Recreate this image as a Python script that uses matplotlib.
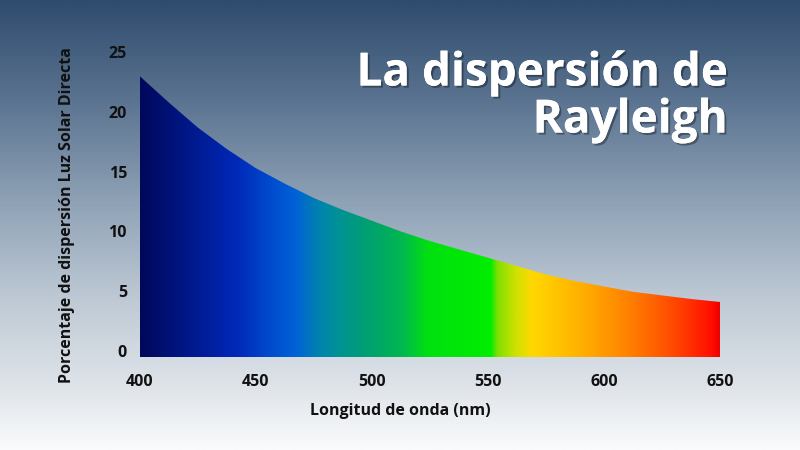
import matplotlib
matplotlib.use('Agg')
import matplotlib.pyplot as plt
import matplotlib.patheffects as pe
from matplotlib.colors import LinearSegmentedColormap
from matplotlib.path import Path
from matplotlib.patches import PathPatch
import numpy as np

# values
wavelength = [400, 412.5, 425, 437.5, 450, 462.5, 475, 487.5, 500, 512.5, 525,
              537.5, 550, 562.5, 575, 587.5, 600, 612.5, 625, 637.5, 650]
scatter_pct = [23.0, 20.8, 18.7, 16.9, 15.3, 14.0, 12.8, 11.8, 10.9, 10.0, 9.2,
               8.5, 7.8, 7.1, 6.4, 5.85, 5.4, 4.95, 4.65, 4.35, 4.1]
x_ticks = [400, 450, 500, 550, 600, 650]
y_ticks = [0, 5, 10, 15, 20, 25]

# spectrum colours along the wavelength axis
spectrum_nm = [400, 441, 458, 467, 476, 484, 498, 513, 524, 551, 554, 562, 569, 590, 611, 628, 646, 650]
spectrum_col = ['#00085a', '#0028b8', '#0050d0', '#0062d6', '#0080b0', '#00909a', '#00a070',
                '#00b850', '#00e010', '#00ee00', '#80e000', '#d0e000', '#ffd800', '#ffb000',
                '#ff8000', '#ff5000', '#ff1000', '#ee0000']

bg_stops = [0.0, 0.22, 0.45, 0.67, 0.85, 1.0]
bg_cols = ['#2f4b6d', '#5a7390', '#8fa2b6', '#bfcad5', '#dde2e8', '#fafbfc']

FONT = 'Open Sans'

fig = plt.figure(figsize=(8, 4.5), dpi=100)

# background gradient
bg = fig.add_axes([0, 0, 1, 1], zorder=0)
bg_cmap = LinearSegmentedColormap.from_list('bg', list(zip(bg_stops, bg_cols)))
bg.imshow(np.linspace(0, 1, 256).reshape(-1, 1), aspect='auto', cmap=bg_cmap, extent=[0, 1, 0, 1])
bg.axis('off')

ax = fig.add_axes([139.5 / 800, (450 - 357) / 450, (720 - 139.5) / 800, (357 - 52) / 450], zorder=1)
ax.patch.set_alpha(0)
ax.set_xlim(400, 650)
ax.set_ylim(-0.5, 25)

# spectrum fill clipped to the area under the curve
lo, hi = spectrum_nm[0], spectrum_nm[-1]
spec_cmap = LinearSegmentedColormap.from_list(
    'spec', [((n - lo) / (hi - lo), c) for n, c in zip(spectrum_nm, spectrum_col)])
img = ax.imshow(np.linspace(0, 1, 512).reshape(1, -1), aspect='auto', cmap=spec_cmap,
                extent=[400, 650, -0.5, 25], interpolation='bilinear')
verts = [(wavelength[0], -0.5)] + list(zip(wavelength, scatter_pct)) + [(wavelength[-1], -0.5), (wavelength[0], -0.5)]
clip = PathPatch(Path(verts, closed=True), transform=ax.transData, facecolor='none', edgecolor='none')
ax.add_patch(clip)
img.set_clip_path(clip)

for s in ax.spines.values():
    s.set_visible(False)
ax.set_xticks(x_ticks)
ax.set_yticks(y_ticks)
ax.tick_params(length=0, labelsize=11.5, pad=9)
ax.tick_params(axis='x', pad=12)
for lab in ax.get_xticklabels() + ax.get_yticklabels():
    lab.set_fontfamily(FONT)
    lab.set_fontweight('bold')
    lab.set_color('#111111')

fig.text(400 / 800, 1 - 411 / 450, 'Longitud de onda (nm)', ha='center', va='center',
         fontsize=11.5, fontweight='bold', family=FONT, color='#111111')
fig.text(67 / 800, 1 - 215 / 450, 'Porcentaje de dispersión Luz Solar Directa', ha='center', va='center',
         rotation=90, fontsize=11.5, fontweight='bold', family=FONT, color='#111111')

shadow = [pe.withSimplePatchShadow(offset=(1.5, -1.5), shadow_rgbFace='black', alpha=0.35), pe.Normal()]
fig.text(728 / 800, 1 - 73 / 450, 'La dispersión de', ha='right', va='center', fontsize=33,
         fontweight='bold', family=FONT, color='white', path_effects=shadow)
fig.text(728 / 800, 1 - 120 / 450, 'Rayleigh', ha='right', va='center', fontsize=33,
         fontweight='bold', family=FONT, color='white', path_effects=shadow)

fig.savefig('out.png', dpi=100)
